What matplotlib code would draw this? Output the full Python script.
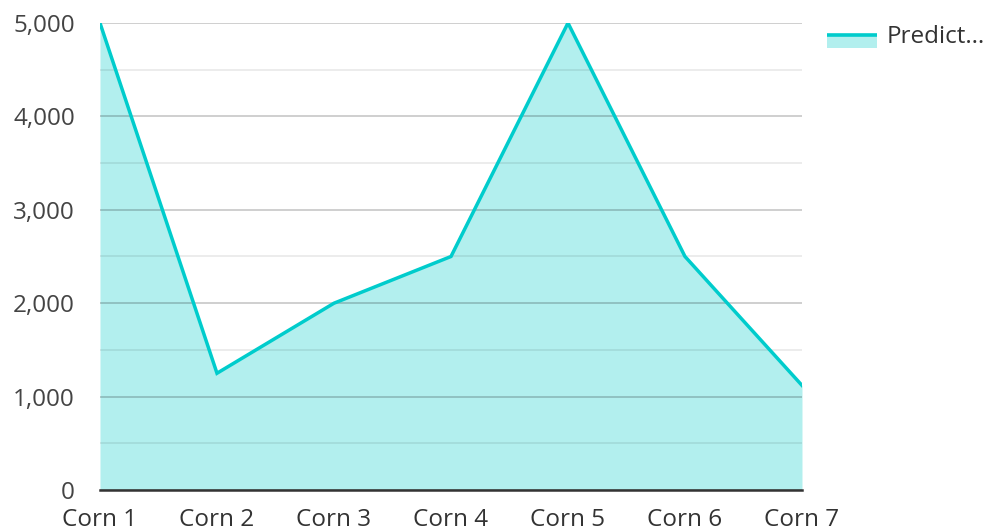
import matplotlib
matplotlib.use("Agg")
import matplotlib.pyplot as plt
from matplotlib.lines import Line2D
from matplotlib.patches import Rectangle

categories = ["Corn 1", "Corn 2", "Corn 3", "Corn 4", "Corn 5", "Corn 6", "Corn 7"]
values = [5000, 1250, 2000, 2500, 5000, 2500, 1120]
series_name = "Predict…"
y_ticks = [0, 1000, 2000, 3000, 4000, 5000]
y_tick_labels = ["0", "1,000", "2,000", "3,000", "4,000", "5,000"]

line_color = "#00CCCC"
fill_color = "#B2EFEE"

plt.rcParams['font.family'] = ['Open Sans', 'DejaVu Sans']

fig = plt.figure(figsize=(9.89, 5.31), dpi=100)
ax = fig.add_axes([0.1011, 0.0772, 0.7098, 0.8795])

x = list(range(len(categories)))
ax.fill_between(x, values, 0, color=fill_color, zorder=1, linewidth=0)
ax.plot(x, values, color=line_color, linewidth=2.5, zorder=3, solid_joinstyle='miter')

ax.set_xlim(0, len(categories) - 1)
ax.set_ylim(0, 5000)
ax.set_xticks(x)
ax.set_xticklabels(categories)
ax.set_yticks(y_ticks)
ax.set_yticklabels(y_tick_labels)
ax.set_yticks([500, 1500, 2500, 3500, 4500], minor=True)

ax.grid(True, which='major', axis='y', color='#000000', alpha=0.22, linewidth=1.2, zorder=2)
ax.grid(True, which='minor', axis='y', color='#000000', alpha=0.09, linewidth=1.2, zorder=2)
ax.set_axisbelow(False)

for s in ['top', 'right', 'left']:
    ax.spines[s].set_visible(False)
ax.spines['bottom'].set_color('#333333')
ax.spines['bottom'].set_linewidth(1.8)
ax.spines['bottom'].set_zorder(4)

ax.tick_params(axis='y', which='both', length=0, pad=18, labelsize=17.5, labelcolor='#444444')
ax.tick_params(axis='x', length=0, pad=13, labelsize=17.5, labelcolor='#333333')

# legend
lx0, lx1 = 827 / 989, 877 / 989
fig.patches.append(Rectangle((lx0, 1 - 48 / 531), lx1 - lx0, 12 / 531,
                             transform=fig.transFigure, facecolor=fill_color,
                             edgecolor='none'))
fig.lines.append(Line2D([lx0, lx1], [1 - 35 / 531, 1 - 35 / 531],
                        transform=fig.transFigure, color=line_color, linewidth=2.6,
                        solid_capstyle='butt'))
fig.text(887 / 989, 1 - 37 / 531, series_name, fontsize=17.5, color='#333333',
         va='center', ha='left')

fig.savefig("out.png", dpi=100)
